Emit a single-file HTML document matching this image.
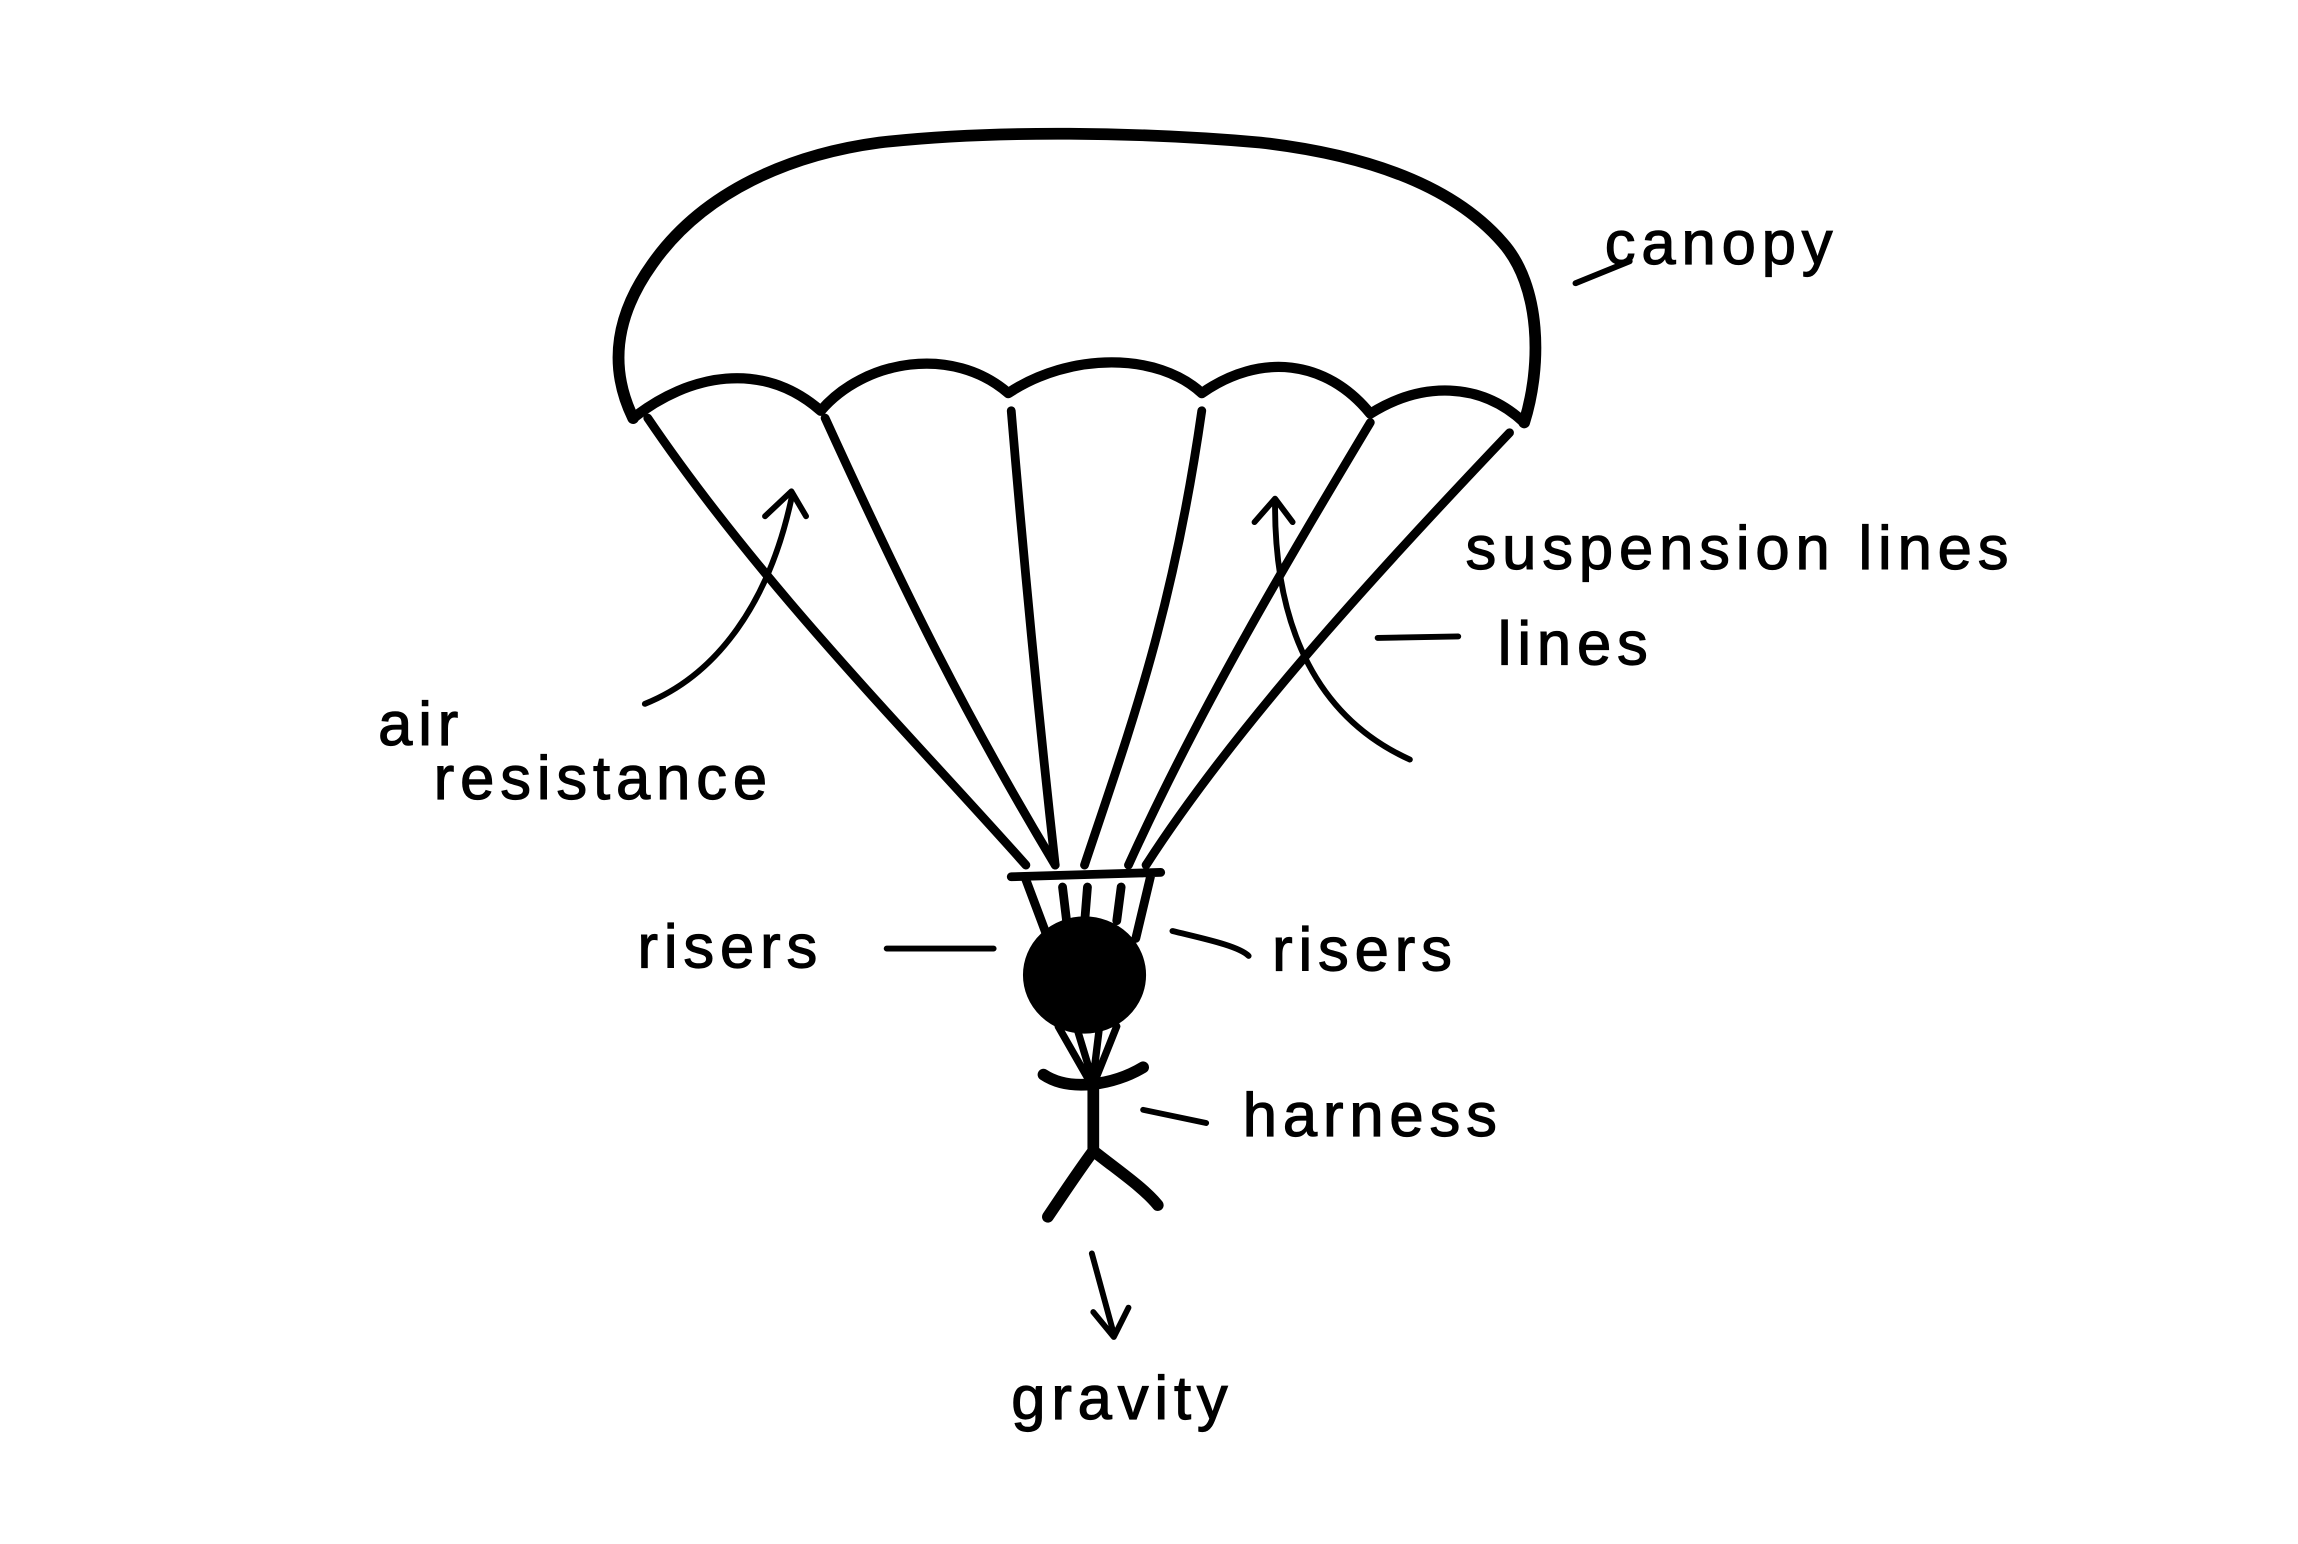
<!DOCTYPE html>
<html><head><meta charset="utf-8"><style>
html,body{margin:0;padding:0;background:#fff;}
svg{display:block;}
text{font-family:"Liberation Sans",sans-serif;font-size:42px;fill:#000;stroke:#000;stroke-width:0.8px;letter-spacing:4px;}
</style></head><body>
<svg width="2298" height="1544" viewBox="0 0 1568 1053" xmlns="http://www.w3.org/2000/svg">
<rect width="1568" height="1053" fill="#fff"/>
<g fill="none" stroke="#000" stroke-linecap="round" stroke-linejoin="round">
<!-- canopy outer -->
<path stroke-width="8" d="M432,285 C415,250 420,215 445,180 C480,130 540,105 600,97 C680,88 780,90 860,97 C930,105 990,125 1025,165 C1052,195 1052,250 1040,288"/>
<!-- bottom scallops -->
<path stroke-width="7" d="M432,285 C470,255 520,245 560,280 M560,280 C590,245 650,235 688,268 M688,268 C730,240 790,240 820,268 M820,268 C860,240 905,245 935,282 M935,282 C970,260 1010,260 1040,288"/>
<!-- suspension lines -->
<g stroke-width="6">
<path d="M442,285 C520,400 620,500 700,590"/>
<path d="M563,285 C620,410 660,490 720,590"/>
<path d="M690,280 C700,400 710,500 720,590"/>
<path d="M820,280 C800,420 770,500 740,590"/>
<path d="M935,288 C880,380 820,480 770,590"/>
<path d="M1030,295 C930,400 840,500 782,590"/>
</g>
<!-- risers box -->
<path stroke-width="6" d="M690,598 L792,595 M700,600 L715,640 M725,605 L728,630 M742,605 L740,630 M765,605 L762,628 M785,598 L775,640"/>
<ellipse cx="740" cy="665" rx="40" ry="38" fill="#000" stroke-width="4"/>
<path stroke-width="5" d="M722,700 L742,735 M735,702 L745,735 M750,702 L746,735 M762,700 L748,735"/>
<!-- person -->
<path stroke-width="8" d="M712,733 C730,745 760,740 780,728 M746,740 L746,785 M746,785 C735,800 725,815 715,830 M746,785 C765,800 780,810 790,822"/>
<!-- air resistance arrow -->
<path stroke-width="4" d="M440,480 C490,460 525,410 540,340 M522,352 L540,335 L550,352"/>
<!-- right arrow -->
<path stroke-width="4" d="M962,518 C900,490 870,430 870,345 M856,356 L870,340 L882,356"/>
<!-- gravity arrow -->
<path stroke-width="4" d="M745,855 L760,910 M746,895 L760,912 L770,892"/>
<!-- leader lines -->
<path stroke-width="4" d="M1075,193 L1112,178 M940,435 L995,434 M605,647 L678,647 M800,635 C820,640 845,645 852,652 M780,757 L823,766"/>
</g>
<text x="1095" y="180">canopy</text>
<text x="1000" y="388">suspension lines</text>
<text x="1022" y="453">lines</text>
<text x="258" y="508">air</text>
<text x="296" y="545">resistance</text>
<text x="435" y="660">risers</text>
<text x="868" y="662">risers</text>
<text x="848" y="775">harness</text>
<text x="690" y="968">gravity</text>
</svg>
</body></html>
